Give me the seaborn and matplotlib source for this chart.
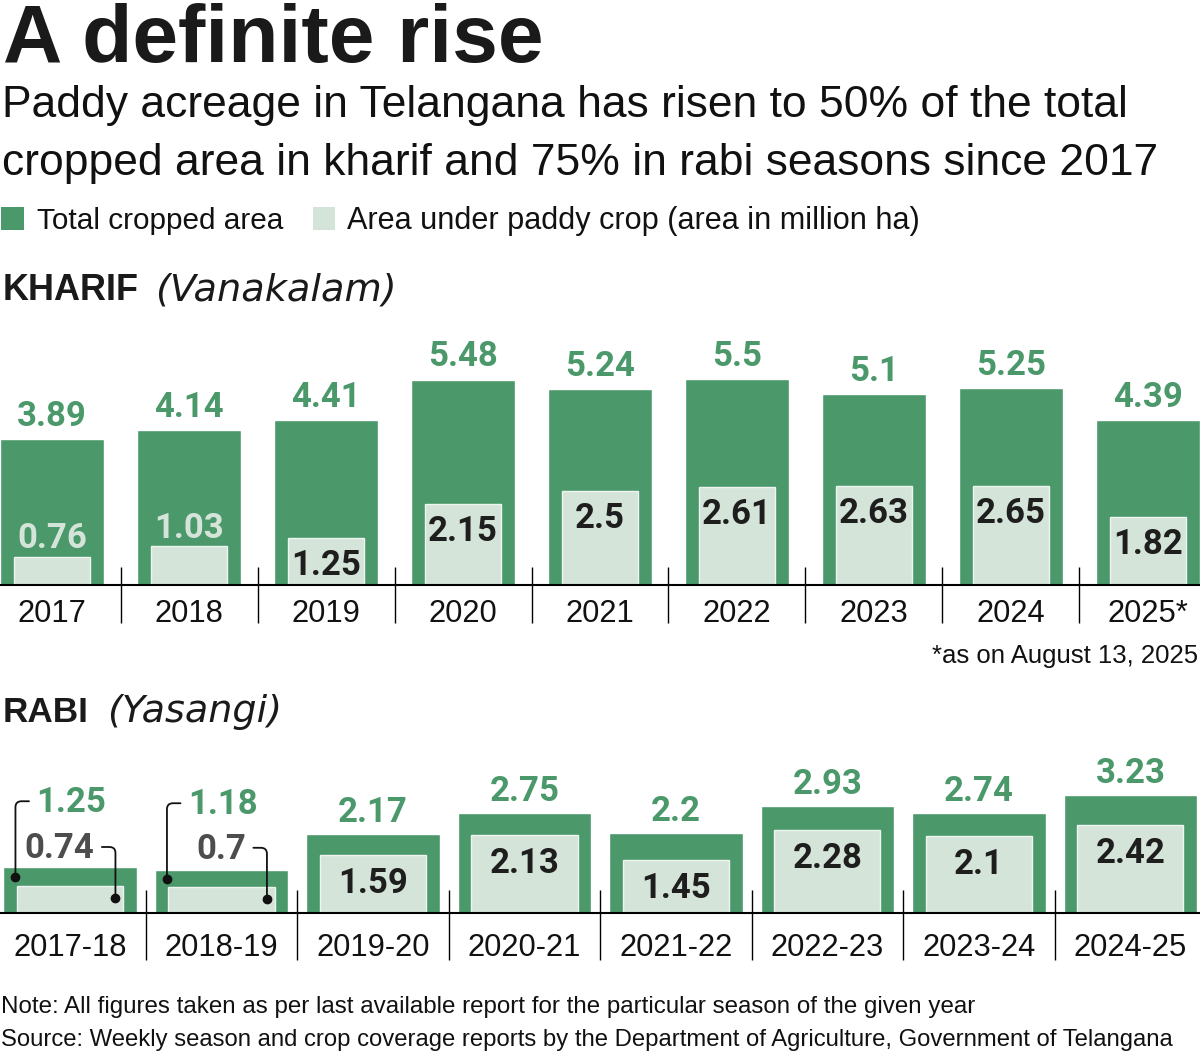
import numpy as np
import matplotlib.pyplot as plt
import seaborn as sns
from matplotlib import font_manager
from matplotlib.patches import Rectangle

# Kharif (Vanakalam) season, area in million ha
kharif_years = ['2017', '2018', '2019', '2020', '2021', '2022', '2023', '2024', '2025*']
kharif_total = [3.89, 4.14, 4.41, 5.48, 5.24, 5.5, 5.1, 5.25, 4.39]
kharif_paddy = [0.76, 1.03, 1.25, 2.15, 2.5, 2.61, 2.63, 2.65, 1.82]

# Rabi (Yasangi) season, area in million ha
rabi_years = ['2017-18', '2018-19', '2019-20', '2020-21', '2021-22', '2022-23', '2023-24', '2024-25']
rabi_total = [1.25, 1.18, 2.17, 2.75, 2.2, 2.93, 2.74, 3.23]
rabi_paddy = [0.74, 0.7, 1.59, 2.13, 1.45, 2.28, 2.1, 2.42]

GREEN = '#4b986b'
LIGHT = '#d5e4d8'
DARK = '#1e1e1e'

installed = {f.name for f in font_manager.fontManager.ttflist}
NARROW = 'Liberation Sans Narrow' if 'Liberation Sans Narrow' in installed else 'Liberation Sans'
nscale = 1.0 if NARROW == 'Liberation Sans Narrow' else 0.9
VALUE_FONT = 'Roboto'
HEAD = 'Liberation Sans'

sns.set_theme(style='white')
plt.rcParams['font.family'] = ['DejaVu Sans']

W, H = 1200, 1054
fig = plt.figure(figsize=(W / 100, H / 100), dpi=100)
fig.patch.set_facecolor('white')
renderer = fig.canvas.get_renderer()


def px_text(x, y, s, width=None, **kw):
    # place text by pixel position (baseline), optionally stretched to a given width
    t = fig.text(x / W, 1 - y / H, s, va='baseline', **kw)
    if width:
        bb = t.get_window_extent(renderer)
        t.set_fontsize(t.get_fontsize() * width / bb.width)
    return t


# headings
px_text(3, 62, 'A definite rise', width=540, fontsize=50, fontweight='bold',
        color='#1a1a1a', family=HEAD)
sub2 = px_text(2, 175, 'cropped area in kharif and 75% in rabi seasons since 2017',
               width=1153, fontsize=30, family=NARROW, color='#111111')
px_text(2, 117, 'Paddy acreage in Telangana has risen to 50% of the total',
        fontsize=sub2.get_fontsize(), family=NARROW, color='#111111')

# legend
fig.patches.append(Rectangle((1 / W, 1 - 230 / H), 23 / W, 23 / H, transform=fig.transFigure,
                             facecolor=GREEN, edgecolor='none'))
px_text(37, 229, 'Total cropped area', width=246, fontsize=20, family=NARROW, color='#111111')
fig.patches.append(Rectangle((313 / W, 1 - 230 / H), 22 / W, 23 / H, transform=fig.transFigure,
                             facecolor=LIGHT, edgecolor='none'))
px_text(347, 229, 'Area under paddy crop (area in million ha)', width=571, fontsize=20,
        family=NARROW, color='#111111')

px_text(3, 300, 'KHARIF', width=136, fontsize=28, fontweight='bold', family=HEAD, color='#1a1a1a')
px_text(155, 300, '(Vanakalam)', width=242, fontsize=28, fontstyle='italic', family='DejaVu Sans', color='#1a1a1a')
px_text(3, 722, 'RABI', width=86, fontsize=28, fontweight='bold', family=HEAD, color='#1a1a1a')
px_text(107, 722, '(Yasangi)', width=175, fontsize=28, fontstyle='italic', family='DejaVu Sans', color='#1a1a1a')

px_text(1198, 663, '*as on August 13, 2025', width=266, fontsize=20, ha='right', family=NARROW, color='#111111')
px_text(1, 1013, 'Note: All figures taken as per last available report for the particular season of the given year',
        width=974, fontsize=18, family=NARROW, color='#111111')
px_text(1, 1046, 'Source: Weekly season and crop coverage reports by the Department of Agriculture, Government of Telangana',
        width=1174, fontsize=18, family=NARROW, color='#111111')


def style_axis(ax, n, xlim, ylim, pad, sep_lo, sep_hi):
    ax.set_xlim(*xlim)
    ax.set_ylim(*ylim)
    ax.set_facecolor('none')
    ax.set_xlabel('')
    ax.set_ylabel('')
    ax.set_yticks([])
    for side in ['top', 'left', 'right']:
        ax.spines[side].set_visible(False)
    ax.spines['bottom'].set_color('black')
    ax.spines['bottom'].set_linewidth(1.5)
    ax.tick_params(axis='x', length=0, pad=pad, labelsize=24.7 * nscale, labelcolor='#111111')
    for lbl in ax.get_xticklabels():
        lbl.set_fontfamily(NARROW)
    ax.vlines(np.arange(n - 1) + 0.5, sep_lo, sep_hi, transform=ax.get_xaxis_transform(),
              colors='black', linewidth=1, clip_on=False)


def value(ax, s, xy, dy, color):
    ax.annotate(s, xy, xytext=(0, dy), textcoords='offset pixels', ha='center', va='baseline',
                color=color, fontsize=25, fontweight='bold', family=VALUE_FONT)


# KHARIF
ax1 = fig.add_axes([0, 1 - 585 / H, 1, 255 / H])
sns.barplot(x=kharif_years, y=kharif_total, color=GREEN, saturation=1, width=0.76, ax=ax1)
sns.barplot(x=kharif_years, y=kharif_paddy, color=LIGHT, saturation=1, width=0.56,
            edgecolor='#eef5f0', linewidth=1, ax=ax1)
style_axis(ax1, len(kharif_years), (-0.38, 8.38), (0, 6.8), 10, -0.149, 0.07)

for i, (t, p) in enumerate(zip(kharif_total, kharif_paddy)):
    value(ax1, f'{t:g}', (i, t), 13, GREEN)
    if p < 1.1:
        value(ax1, f'{p:g}', (i, p), 8, LIGHT)
    else:
        value(ax1, f'{p:g}', (i, p), -37, DARK)

# RABI
ax2 = fig.add_axes([0, 1 - 913 / H, 1, 153 / H])
sns.barplot(x=rabi_years, y=rabi_total, color=GREEN, saturation=1, width=0.88, ax=ax2)
sns.barplot(x=rabi_years, y=rabi_paddy, color=LIGHT, saturation=1, width=0.70,
            edgecolor='#eef5f0', linewidth=1, ax=ax2)
style_axis(ax2, len(rabi_years), (-0.462, 7.459), (0, 4.19), 14.4, -0.307, 0.15)

for i, (t, p) in enumerate(zip(rabi_total, rabi_paddy)):
    if p < 1:
        # bars too low for labels: use leader lines
        pt = (i - 0.36, t * 0.78)
        ax2.annotate(f'{t:g}', pt, xytext=(21, 65), textcoords='offset pixels', ha='left', va='baseline',
                     color=GREEN, fontsize=25, fontweight='bold', family=VALUE_FONT,
                     arrowprops=dict(arrowstyle='-', connectionstyle='angle,angleA=0,angleB=90,rad=6',
                                     relpos=(0, 0.55), shrinkA=3, shrinkB=0, color='#111111', lw=1.3))
        ax2.plot(*pt, 'o', color='#111111', ms=6, clip_on=False)
        pt = (i + 0.3, p * 0.55)
        ax2.annotate(f'{p:g}', pt, xytext=(-21, 40), textcoords='offset pixels', ha='right', va='baseline',
                     color='#4d4d4d', fontsize=25, fontweight='bold', family=VALUE_FONT,
                     arrowprops=dict(arrowstyle='-', connectionstyle='angle,angleA=0,angleB=90,rad=6',
                                     relpos=(1, 0.55), shrinkA=3, shrinkB=0, color='#111111', lw=1.3))
        ax2.plot(*pt, 'o', color='#111111', ms=6, clip_on=False)
    else:
        value(ax2, f'{t:g}', (i, t), 12, GREEN)
        value(ax2, f'{p:g}', (i, p), -38, DARK)

fig.savefig('out.png', dpi=100)
